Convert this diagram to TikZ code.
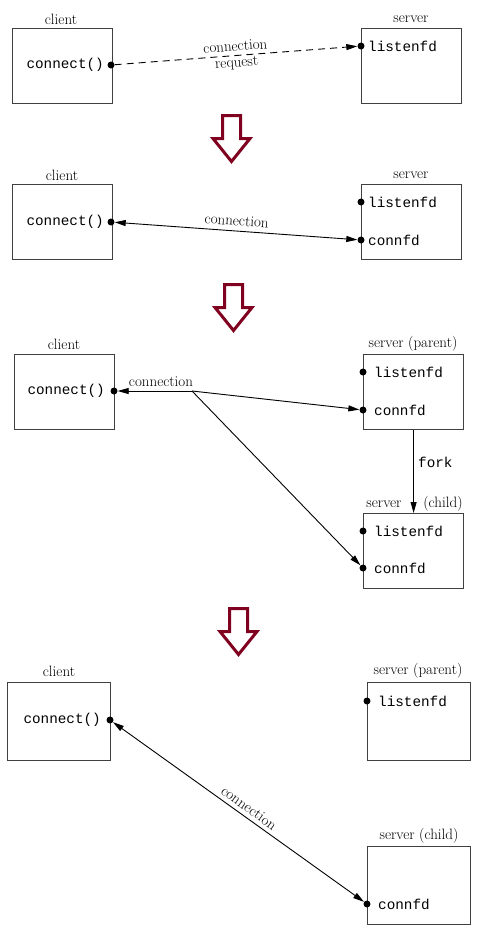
\documentclass[tikz,border=0pt]{standalone}
\usepackage{fontspec}
\setmonofont{Liberation Mono}
\usetikzlibrary{arrows.meta}
\definecolor{arrowred}{RGB}{128,0,32}
\begin{document}
\begin{tikzpicture}[x=1pt,y=-1pt,
  box/.style={draw=black!75, line width=1.2pt, minimum width=100pt, minimum height=75pt, inner sep=0pt, anchor=north west},
  bigbox/.style={box, minimum width=103pt, minimum height=78pt},
  dot/.style={circle, fill=black, inner sep=0pt, minimum size=7pt},
  lbl/.style={font=\fontsize{15}{18}\selectfont, inner sep=0pt},
  code/.style={font=\ttfamily\fontsize{14.3}{17}\selectfont, inner sep=0pt},
  conn/.style={line width=0.9pt, black},
  tip/.style={-{Triangle[length=11pt,width=6pt]}},
  tips/.style={{Triangle[length=11pt,width=6pt]}-{Triangle[length=11pt,width=6pt]}},
  bigarrow/.pic={\draw[arrowred, line width=3pt, line join=miter]
     (-9,0) -- (9,0) -- (9,23) -- (18.5,23) -- (0,46) -- (-18.5,23) -- (-9,23) -- cycle;}
]
\useasboundingbox (0,0) rectangle (488,938);

% ---------- panel 1 ----------
\node[box] (c1) at (12,28) {};
\node[box] (s1) at (361,28) {};
\node[lbl] (c1l) at (61,19) {client};
\node[lbl] (s1l) at (411,19) {server};
\node[dot] (c1d) at (111,65) {};
\node[code, anchor=east] (c1t) at (104,65) {connect()};
\node[dot] (s1d) at (361,46) {};
\node[code, anchor=west] (s1t) at (368,46) {listenfd};
\draw[conn, dash pattern=on 7pt off 5pt, tip] (c1d) -- (s1d)
   node[pos=0.5, sloped, above=4pt, lbl] (l1a) {connection}
   node[pos=0.5, sloped, below=2pt, lbl] (l1b) {request};

\pic at (231.5,115.5) {bigarrow};

% ---------- panel 2 ----------
\node[box] (c2) at (12,184) {};
\node[box] (s2) at (361,184) {};
\node[lbl] (c2l) at (62,175) {client};
\node[lbl] (s2l) at (411,175) {server};
\node[dot] (c2d) at (111,222) {};
\node[code, anchor=east] (c2t) at (104,222) {connect()};
\node[dot] (s2a) at (361,202) {};
\node[code, anchor=west] (s2at) at (368,202) {listenfd};
\node[dot] (s2b) at (361,240) {};
\node[code, anchor=west] (s2bt) at (368,240) {connfd};
\draw[conn, tips] (c2d) -- (s2b)
   node[pos=0.5, sloped, above=5pt, lbl] (l2) {connection};

\pic at (233.5,284.5) {bigarrow};

% ---------- panel 3 ----------
\node[box] (c3) at (14,354) {};
\node[box] (p3) at (363,354) {};
\node[box] (ch3) at (363,513) {};
\node[lbl] (c3l) at (64,344) {client};
\node[lbl] (p3l) at (413,344) {server\ (parent)};
\node[lbl] (ch3l1) at (384,504) {server};
\node[lbl] (ch3l2) at (443,504) {(child)};
\node[dot] (c3d) at (114,391) {};
\node[code, anchor=east] (c3t) at (105,391) {connect()};
\node[dot] (p3a) at (363,372) {};
\node[code, anchor=west] (p3at) at (374,372) {listenfd};
\node[dot] (p3b) at (363,410) {};
\node[code, anchor=west] (p3bt) at (374,410) {connfd};
\node[dot] (ch3a) at (363,531) {};
\node[code, anchor=west] (ch3at) at (374,531) {listenfd};
\node[dot] (ch3b) at (363,568) {};
\node[code, anchor=west] (ch3bt) at (374,568) {connfd};
\coordinate (j3) at (192,391);
\node[lbl] (l3) at (161,382) {connection};
\draw[conn, tip] (j3) -- (c3d);
\draw[conn, tip] (j3) -- (p3b);
\draw[conn, tip] (j3) -- (ch3b);
\draw[conn, tip] (p3.south) -- (ch3.north);
\node[code, anchor=west] (fork) at (418,462) {fork};

\pic at (238.5,608.5) {bigarrow};

% ---------- panel 4 ----------
\node[bigbox] (c4) at (7,682) {};
\node[bigbox] (p4) at (367,682) {};
\node[bigbox] (ch4) at (367,846) {};
\node[lbl] (c4l) at (59,671) {client};
\node[lbl] (p4l) at (418,671) {server\ (parent)};
\node[lbl] (ch4l) at (419,836) {server\ (child)};
\node[dot] (c4d) at (110,720) {};
\node[code, anchor=east] (c4t) at (101,720) {connect()};
\node[dot] (p4a) at (367,701) {};
\node[code, anchor=west] (p4at) at (378,701) {listenfd};
\node[dot] (ch4b) at (367,904) {};
\node[code, anchor=west] (ch4bt) at (378,904) {connfd};
\draw[conn, tips] (c4d) -- (ch4b)
   node[pos=0.52, sloped, above=4pt, lbl] (l4) {connection};
\end{tikzpicture}
\end{document}
